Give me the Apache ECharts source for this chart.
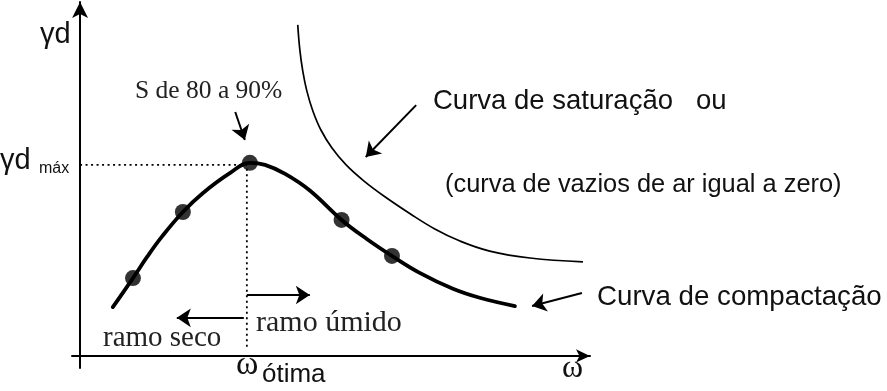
<!DOCTYPE html>
<html>
<head>
<meta charset="utf-8">
<script src="https://cdn.jsdelivr.net/npm/echarts@6/dist/echarts.min.js"></script>
<style>html,body{margin:0;padding:0;background:#fff}#c{width:887px;height:391px}</style>
</head>
<body>
<div id="c"></div>
<script>
// Compaction curve (ω, γd) in schematic units
const omega  = [6.5, 10.5, 13.3, 16.2, 20.4, 24.4, 29.8, 33.7, 36.7, 40.7, 45.6, 51.9, 56.9, 61.9, 67.4, 74.0, 79.3, 86.3];
const gammaD = [14.1, 22.5, 28.6, 34.4, 41.6, 47.1, 52.9, 55.8, 55.2, 52.6, 47.8, 39.3, 33.8, 28.9, 24.0, 19.4, 16.8, 14.4];
const markerIdx = [1, 4, 7, 11, 13];
// Saturation curve (zero air voids)
const satOmega = [43.2, 43.6, 44.2, 45.0, 46.2, 47.8, 50.0, 52.8, 56.3, 60.5, 65.5, 70.4, 75.4, 81.3, 89.3, 99.8];
const satGamma = [95.7, 88.7, 82.3, 76.6, 70.8, 65.3, 60.1, 55.2, 50.6, 46.0, 41.1, 36.7, 33.2, 30.3, 28.3, 27.2];
// Optimum
const omegaOpt = 33.1;
const gammaMax = 55.2;
const optBottom = 2.6;
// Annotation arrows [x0, y0, x1, y1]
const annotationArrows = [
  [30.8, 70.5, 32.7, 62.4],
  [66.7, 72.5, 56.7, 57.5],
  [99.6, 18.2, 89.7, 14.4],
  [33.1, 17.6, 45.6, 17.6],
  [32.5, 11.0, 19.2, 11.0]
];
// Texts
const labels = {
  yAxis: 'γd',
  yMax: 'γd',
  yMaxSub: 'máx',
  sat: 'S de 80 a 90%',
  satCurve: 'Curva de saturação   ou',
  satCurve2: '(curva de vazios de ar igual a zero)',
  compCurve: 'Curva de compactação',
  wet: 'ramo úmido',
  dry: 'ramo seco',
  wOpt: 'ω',
  wOptSub: 'ótima',
  xAxis: 'ω'
};

const chart = echarts.init(document.getElementById('c'), null, {renderer: 'canvas'});
const SANS = '"Liberation Sans", Arial, sans-serif';
const SERIF = '"Liberation Serif", "Times New Roman", serif';
function txt(text, x, baseline, size, family, color, weight) {
  const k = family === SERIF ? 0.34 : 0.35;
  return {type: 'text', x: x, y: baseline - k * size, silent: true,
    style: {text: text, font: (weight || 'normal') + ' ' + size + 'px ' + family, fill: color || '#111',
      verticalAlign: 'middle', align: 'left', lineHeight: size}};
}

const axisCommon = {
  type: 'value',
  axisTick: {show: false}, axisLabel: {show: false}, splitLine: {show: false}
};

chart.setOption({
  animation: false,
  backgroundColor: '#fff',
  grid: {left: 72, right: 297, top: 2, bottom: 23},
  xAxis: Object.assign({}, axisCommon, {
    min: -1.6, max: 101.2,
    axisLine: {show: true, onZero: true, symbol: ['none', 'arrow'], symbolSize: [10, 14],
      lineStyle: {color: '#000', width: 2}}
  }),
  yAxis: Object.assign({}, axisCommon, {
    min: -3.5, max: 102.3,
    axisLine: {show: true, onZero: true, symbol: ['none', 'arrow'], symbolSize: [12, 16],
      lineStyle: {color: '#000', width: 2}}
  }),
  series: [
    {
      type: 'line', name: 'optimo', silent: true, symbol: 'none',
      data: [[0, gammaMax], [omegaOpt, gammaMax], [omegaOpt, optBottom]],
      lineStyle: {color: '#000', width: 1.8, type: [2, 3.5]}
    },
    {
      type: 'line', name: 'saturacao', silent: true, symbol: 'none', smooth: 0.4,
      data: satOmega.map((x, i) => [x, satGamma[i]]),
      lineStyle: {color: '#000', width: 1.7}
    },
    {
      type: 'line', name: 'compactacao', silent: true, symbol: 'none', smooth: 0.4,
      data: omega.map((x, i) => [x, gammaD[i]]),
      lineStyle: {color: '#000', width: 3.8, cap: 'round'}
    },
    {
      type: 'scatter', name: 'pontos', silent: true, symbol: 'circle', symbolSize: 16,
      data: markerIdx.map(i => [omega[i], gammaD[i]]),
      itemStyle: {color: '#000'}
    },
    {
      type: 'lines', coordinateSystem: 'cartesian2d', silent: true,
      symbol: ['none', 'arrow'], symbolSize: 14,
      data: annotationArrows.map(a => ({coords: [[a[0], a[1]], [a[2], a[3]]]})),
      lineStyle: {color: '#000', width: 2, opacity: 1, curveness: 0}
    }
  ],
  graphic: [
    txt(labels.yAxis, 40, 45, 29, SANS),
    txt(labels.yMax, 0, 171, 29, SANS),
    txt(labels.yMaxSub, 39, 174, 16, SANS),
    txt(labels.sat, 135, 100, 25.5, SERIF, '#222'),
    txt(labels.satCurve, 433, 111, 27.5, SANS),
    txt(labels.satCurve2, 445, 194, 25.4, SANS),
    txt(labels.compCurve, 597, 307, 27.7, SANS),
    txt(labels.wet, 256, 333, 30, SERIF, '#222'),
    txt(labels.dry, 103, 348, 29, SERIF, '#222'),
    txt(labels.wOpt, 236, 377, 34, SERIF),
    txt(labels.wOptSub, 262, 384, 26, SANS),
    txt(labels.xAxis, 562, 379, 32, SERIF)
  ]
});
</script>
</body>
</html>
